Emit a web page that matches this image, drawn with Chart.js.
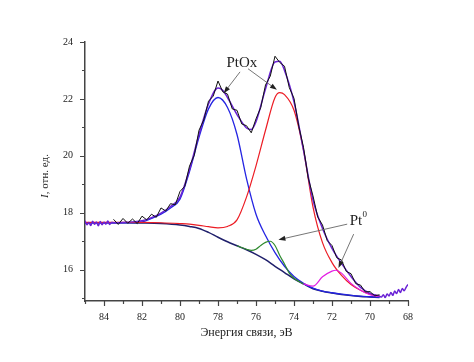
<!DOCTYPE html>
<html>
<head>
<meta charset="utf-8">
<script src="https://cdn.jsdelivr.net/npm/chart.js@4.4.1/dist/chart.umd.min.js"></script>
<style>
  html, body { margin: 0; padding: 0; background: #fff; }
  #wrap { width: 474px; height: 362px; position: relative; }
</style>
</head>
<body>
<div id="wrap"><canvas id="xpsChart"></canvas></div>
<script>
// Ticks
const xMajor = [84, 82, 80, 78, 76, 74, 72, 70, 68];
const xMinor = [85, 83, 81, 79, 77, 75, 73, 71, 69];
const yMajor = [16, 18, 20, 22, 24];
const yMinor = [15, 17, 19, 21, 23];

// Shirley background
const bgX = [85, 84, 83, 82, 81, 80, 79.5, 79, 78.5, 78, 77.5, 77, 76.5, 76, 75.5, 75, 74.5, 74, 73.5, 73, 72.5, 72, 71.5, 71, 70.5, 70, 69.5];
const bgY = [17.65, 17.65, 17.65, 17.64, 17.62, 17.57, 17.52, 17.45, 17.31, 17.14, 16.98, 16.84, 16.70, 16.54, 16.35, 16.12, 15.90, 15.68, 15.50, 15.33, 15.24, 15.18, 15.13, 15.09, 15.06, 15.04, 15.02];

// PtOx peak 1 (blue)
const ox1X = [85, 84, 83, 82, 81.5, 81, 80.5, 80, 79.5, 79, 78.5, 78, 77.5, 77, 76.5, 76, 75.5, 75, 74.5, 74, 73.5, 73, 72.5, 72, 71.5, 71, 70.5, 70, 69.5];
const ox1Y = [17.65, 17.65, 17.65, 17.68, 17.80, 17.95, 18.17, 18.48, 19.45, 20.65, 21.65, 22.05, 21.7, 20.75, 19.2, 17.95, 17.2, 16.6, 16.12, 15.76, 15.52, 15.35, 15.25, 15.19, 15.14, 15.10, 15.07, 15.05, 15.03];

// PtOx peak 2 (red)
const ox2X = [85, 82, 81, 80, 79.5, 79, 78.5, 78, 77.5, 77, 76.5, 76, 75.5, 75, 74.75, 74.5, 74, 73.5, 73, 72.5, 72, 71.5, 71, 70.5, 70, 69.5];
const ox2Y = [17.66, 17.66, 17.65, 17.62, 17.60, 17.56, 17.51, 17.47, 17.52, 17.75, 18.55, 19.65, 20.9, 22.05, 22.22, 22.15, 21.6, 20.2, 18.2, 16.95, 16.25, 15.80, 15.48, 15.28, 15.14, 15.08];

// Pt0 peak 1 (green)
const pt1X = [77, 76.5, 76.25, 76, 75.75, 75.5, 75.25, 75, 74.75, 74.5, 74.25, 74, 73.5];
const pt1Y = [16.84, 16.72, 16.68, 16.72, 16.85, 16.96, 17.0, 16.85, 16.5, 16.2, 15.88, 15.7, 15.5];

// Pt0 peak 2 (magenta)
const pt2X = [73.5, 73, 72.5, 72, 71.8, 71.5, 71, 70.5, 70, 69.5];
const pt2Y = [15.5, 15.42, 15.75, 15.95, 15.98, 15.88, 15.52, 15.28, 15.12, 15.05];

// Cumulative fit with raw spectrum outside the fit window (violet)
const envX = [85, 84.9, 84.8, 84.7, 84.6, 84.5, 84.4, 84.3, 84.2, 84.1, 84, 83.9, 83.8, 83.7, 83.6,
  83.5, 83, 82.5, 82, 81.5, 81, 80.5, 80, 79.5, 79, 78.5, 78, 77.75, 77.5, 77, 76.5, 76.25, 76, 75.5, 75, 74.75, 74.5, 74, 73.5, 73, 72.5, 72, 71.5, 71, 70.5, 70, 69.5,
  69.4, 69.3, 69.2, 69.1, 69, 68.9, 68.8, 68.7, 68.6, 68.5, 68.4, 68.3, 68.2, 68.1, 68];
const envY = [17.72, 17.58, 17.66, 17.55, 17.70, 17.60, 17.68, 17.54, 17.69, 17.58, 17.67, 17.60, 17.71, 17.59, 17.66,
  17.65, 17.66, 17.68, 17.72, 17.83, 17.99, 18.22, 18.55, 19.52, 20.75, 21.82, 22.38, 22.3, 22.05, 21.45, 20.98, 20.93, 21.2, 22.35, 23.3, 23.32, 23.0, 21.9, 20.2, 18.45, 17.45, 16.75, 16.22, 15.76, 15.38, 15.17, 15.07,
  15.04, 15.12, 15.02, 15.15, 15.08, 15.20, 15.10, 15.25, 15.16, 15.30, 15.20, 15.34, 15.26, 15.38, 15.48];

// Measured spectrum in the fit window (black)
const rawX = [83.5, 83.25, 83, 82.75, 82.5, 82.25, 82, 81.75, 81.5, 81.25, 81, 80.75, 80.5, 80.25, 80,
  79.75, 79.5, 79.25, 79, 78.75, 78.5, 78.25, 78, 77.75, 77.5, 77.25, 77, 76.75, 76.5, 76.25, 76,
  75.75, 75.5, 75.25, 75, 74.75, 74.5, 74.25, 74, 73.75, 73.5, 73.25, 73, 72.75, 72.5, 72.25, 72,
  71.75, 71.5, 71.25, 71, 70.75, 70.5, 70.25, 70, 69.75, 69.5];
const rawY = [17.77, 17.59, 17.80, 17.63, 17.78, 17.62, 17.88, 17.75, 17.95, 17.84, 18.17, 18.06, 18.32, 18.28, 18.75,
  18.93, 19.64, 20.02, 20.90, 21.26, 21.92, 22.10, 22.63, 22.25, 22.17, 21.65, 21.60, 21.12, 21.06, 20.81, 21.30,
  21.70, 22.49, 22.80, 23.50, 23.28, 23.15, 22.40, 22.02, 21.04, 20.30, 19.22, 18.59, 17.85, 17.57, 17.02, 16.85,
  16.42, 16.34, 15.94, 15.86, 15.51, 15.46, 15.22, 15.23, 15.08, 15.12];

const axisColor = '#444';
const textColor = '#222';
const serif = '"Liberation Serif", "Times New Roman", serif';

function pts(xs, ys) {
  return xs.map((x, i) => ({ x: x, y: ys[i] }));
}

function curve(xs, ys, color, width, order) {
  return {
    data: pts(xs, ys),
    showLine: true,
    borderColor: color,
    borderWidth: width,
    pointRadius: 0,
    cubicInterpolationMode: 'monotone',
    order: order
  };
}

// Labels and arrows (in data units)
const notes = {
  ptox: { x: 76.74, y: 23.27, arrows: [[76.84, 22.95, 77.7, 22.2], [76.42, 23.06, 74.9, 22.32]] },
  pt0: { x: 70.74, y: 17.72, arrows: [[71.2, 17.6, 74.82, 17.05], [70.86, 17.25, 71.66, 16.06]] }
};

const decorPlugin = {
  id: 'decor',
  afterDraw(chart) {
    const c = chart.ctx;
    const xs = chart.scales.x;
    const ys = chart.scales.y;
    const area = chart.chartArea;
    c.save();

    // tick marks
    c.strokeStyle = axisColor;
    c.lineWidth = 1.2;
    c.beginPath();
    xMajor.concat(xMinor).forEach(v => {
      const px = Math.round(xs.getPixelForValue(v)) + 0.5;
      const len = xMajor.includes(v) ? 5 : 3;
      c.moveTo(px, area.bottom);
      c.lineTo(px, area.bottom + len);
    });
    yMajor.concat(yMinor).forEach(v => {
      const py = Math.round(ys.getPixelForValue(v)) + 0.5;
      const len = yMajor.includes(v) ? 5 : 3;
      c.moveTo(area.left, py);
      c.lineTo(area.left - len, py);
    });
    c.stroke();

    // axis titles
    c.fillStyle = textColor;
    c.textBaseline = 'middle';
    c.font = '12px ' + serif;
    c.textAlign = 'center';
    c.fillText('Энергия связи, эВ', (area.left + area.right) / 2, 333);

    c.save();
    c.translate(45, 176);
    c.rotate(-Math.PI / 2);
    c.textAlign = 'left';
    c.font = 'italic 11px ' + serif;
    const w1 = c.measureText('I').width;
    c.font = '11px ' + serif;
    const w2 = c.measureText(', отн. ед.').width;
    const start = -(w1 + w2) / 2;
    c.font = 'italic 11px ' + serif;
    c.fillText('I', start, 0);
    c.font = '11px ' + serif;
    c.fillText(', отн. ед.', start + w1, 0);
    c.restore();

    // peak labels
    c.font = '15px ' + serif;
    c.textAlign = 'center';
    c.fillText('PtOx', xs.getPixelForValue(notes.ptox.x), ys.getPixelForValue(notes.ptox.y));
    const ptx = xs.getPixelForValue(notes.pt0.x);
    const pty = ys.getPixelForValue(notes.pt0.y);
    c.fillText('Pt', ptx, pty);
    c.font = '9px ' + serif;
    c.textAlign = 'left';
    c.fillText('0', ptx + c.measureText('Pt').width * 0.75 + 1, pty - 6);

    // arrows
    const arrow = (a) => {
      const x0 = xs.getPixelForValue(a[0]), y0 = ys.getPixelForValue(a[1]);
      const x1 = xs.getPixelForValue(a[2]), y1 = ys.getPixelForValue(a[3]);
      const ang = Math.atan2(y1 - y0, x1 - x0);
      c.strokeStyle = '#666';
      c.lineWidth = 0.9;
      c.beginPath();
      c.moveTo(x0, y0);
      c.lineTo(x1 - Math.cos(ang) * 5, y1 - Math.sin(ang) * 5);
      c.stroke();
      c.fillStyle = '#222';
      c.beginPath();
      c.moveTo(x1, y1);
      c.lineTo(x1 - Math.cos(ang) * 7 + Math.sin(ang) * 2.5, y1 - Math.sin(ang) * 7 - Math.cos(ang) * 2.5);
      c.lineTo(x1 - Math.cos(ang) * 7 - Math.sin(ang) * 2.5, y1 - Math.sin(ang) * 7 + Math.cos(ang) * 2.5);
      c.closePath();
      c.fill();
    };
    notes.ptox.arrows.forEach(arrow);
    notes.pt0.arrows.forEach(arrow);

    c.restore();
  }
};

document.addEventListener('DOMContentLoaded', function() {
  const ctx = document.getElementById('xpsChart');

  new Chart(ctx, {
    type: 'scatter',
    data: {
      datasets: [
        curve(bgX, bgY, '#1f1f6b', 1.5, 7),
        curve(ox1X, ox1Y, '#2424e2', 1.3, 6),
        curve(ox2X, ox2Y, '#ec1c24', 1.2, 5),
        curve(pt1X, pt1Y, '#2f8a2f', 1.2, 4),
        curve(pt2X, pt2Y, '#e31ee3', 1.2, 3),
        curve(envX, envY, '#6a22d6', 1.5, 2),
        Object.assign(curve(rawX, rawY, '#111111', 1, 1), { cubicInterpolationMode: 'default', tension: 0 })
      ]
    },
    options: {
      responsive: true,
      maintainAspectRatio: false,
      animation: false,
      layout: {
        padding: { left: 0, top: 42, right: 66, bottom: 0 }
      },
      plugins: {
        legend: { display: false },
        tooltip: { enabled: false }
      },
      scales: {
        x: {
          type: 'linear',
          reverse: true,
          min: 68,
          max: 85,
          afterBuildTicks: function(axis) {
            axis.ticks = xMajor.map(v => ({ value: v }));
          },
          afterFit: function(scale) {
            scale.height = 61;
          },
          ticks: {
            padding: 2,
            color: textColor,
            font: { family: serif, size: 10 },
            maxRotation: 0
          },
          grid: { display: false },
          border: { display: true, color: axisColor, width: 1.5 }
        },
        y: {
          min: 14.9,
          max: 24,
          afterBuildTicks: function(axis) {
            axis.ticks = yMajor.map(v => ({ value: v }));
          },
          afterFit: function(scale) {
            scale.width = 85;
          },
          ticks: {
            padding: 4,
            color: textColor,
            font: { family: serif, size: 10 }
          },
          grid: { display: false },
          border: { display: true, color: axisColor, width: 1.5 }
        }
      }
    },
    plugins: [decorPlugin]
  });
});
</script>
</body>
</html>
